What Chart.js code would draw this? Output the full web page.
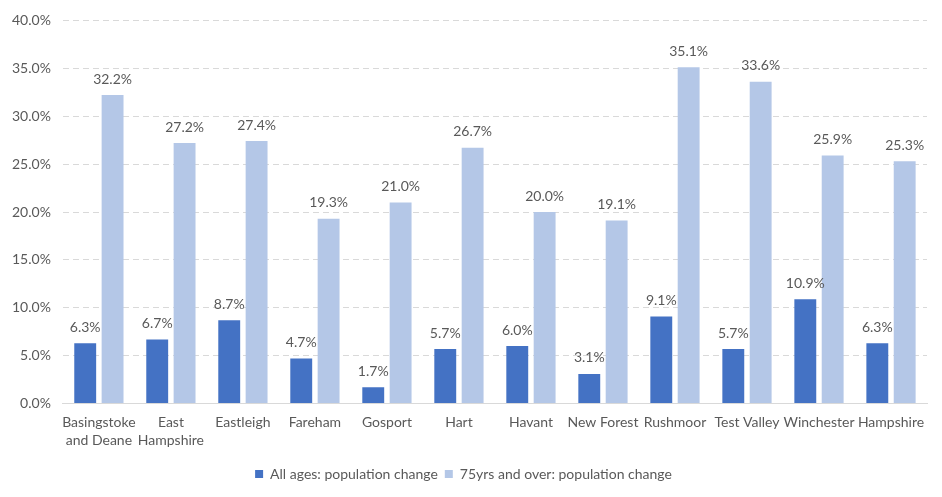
<!DOCTYPE html>
<html><head><meta charset="utf-8">
<script src="https://cdn.jsdelivr.net/npm/chart.js@4/dist/chart.umd.min.js"></script>
<style>html,body{margin:0;padding:0;background:#fff}#wrap{width:942px;height:497px}</style>
</head><body><div id="wrap"><canvas id="c" width="942" height="497"></canvas></div>
<script>
const categories = [["Basingstoke","and Deane"],["East","Hampshire"],"Eastleigh","Fareham","Gosport","Hart","Havant","New Forest","Rushmoor","Test Valley","Winchester","Hampshire"];
const allAges = [6.3,6.7,8.7,4.7,1.7,5.7,6.0,3.1,9.1,5.7,10.9,6.3];
const over75 = [32.2,27.2,27.4,19.3,21.0,26.7,20.0,19.1,35.1,33.6,25.9,25.3];
const seriesNames = ["All ages: population change","75yrs and over: population change"];
const yTicks = [0,5,10,15,20,25,30,35,40];

const FONT = "Lato, 'Open Sans', sans-serif";
const labelPlugin = {
  id:'barLabels',
  afterDatasetsDraw(chart){
    const ctx = chart.ctx;
    ctx.save();
    ctx.font = "14px " + FONT;
    ctx.fillStyle = "#595959";
    ctx.textAlign = "center";
    ctx.textBaseline = "bottom";
    chart.data.datasets.forEach((ds,i)=>{
      chart.getDatasetMeta(i).data.forEach((el,j)=>{
        ctx.fillText(ds.data[j].toFixed(1)+"%", el.x, el.y-9);
      });
    });
    ctx.restore();
  }
};
new Chart(document.getElementById('c'),{
  type:'bar',
  data:{labels:categories,datasets:[
    {label:seriesNames[0],data:allAges,backgroundColor:'#4472C4',barPercentage:0.8,categoryPercentage:0.76},
    {label:seriesNames[1],data:over75,backgroundColor:'#B4C7E7',barPercentage:0.8,categoryPercentage:0.76}
  ]},
  options:{
    responsive:false,animation:false,
    layout:{padding:{left:0,right:15,top:8,bottom:6}},
    plugins:{
      legend:{position:'bottom',labels:{boxWidth:8,boxHeight:8,font:{family:FONT,size:14},color:'#595959',padding:7}},
      tooltip:{enabled:false}
    },
    scales:{
      x:{grid:{display:false,drawTicks:false},border:{color:'#D9D9D9'},ticks:{font:{family:FONT,size:14,lineHeight:1.3},color:'#595959',maxRotation:0,autoSkip:false,padding:10}},
      y:{min:0,max:40,afterBuildTicks(ax){ax.ticks=yTicks.map(v=>({value:v}));},
        grid:{color:'#D9D9D9',drawTicks:false},border:{display:false,dash:[6,4]},
        ticks:{font:{family:FONT,size:14},color:'#595959',padding:12,callback:v=>v.toFixed(1)+'%'}}
    }
  },
  plugins:[labelPlugin]
});
</script></body></html>
